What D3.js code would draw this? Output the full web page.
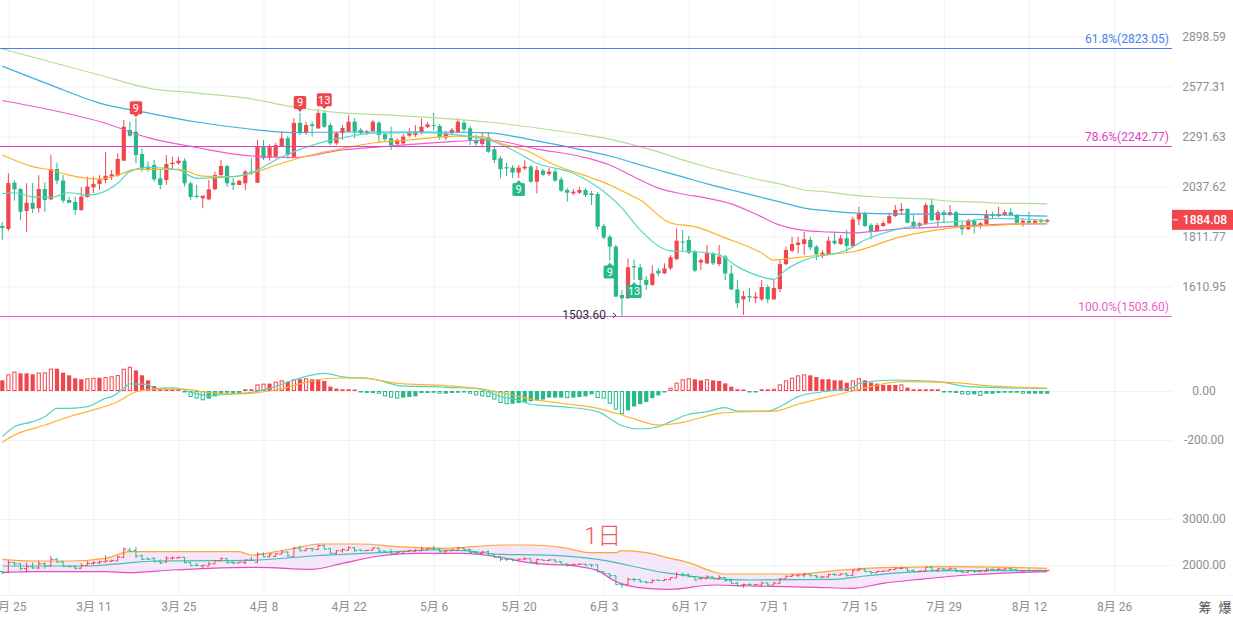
<!DOCTYPE html>
<html>
<head>
<meta charset="utf-8">
<script src="https://cdn.jsdelivr.net/npm/d3@7"></script>
<style>
  html, body { margin: 0; padding: 0; background: #fff; }
  svg { display: block; font-family: Roboto, "Noto Sans CJK SC", sans-serif; }
</style>
</head>
<body>
<svg id="chart" width="1233" height="617"></svg>
<script>
/* daily candles, day 0 = Feb 24, day 172 = Aug 15 */
const openP = [1857,1844,2056,2026,1924,1961,1936,2026,1977,2123,
  2066,1974,1965,1928,1988,2034,2050,2069,2085,2090,
  2165,2327,2318,2199,2135,2143,2077,2069,2148,2152,
  2165,2053,1994,1982,1977,2024,2093,2138,2056,2045,
  2053,2110,2056,2238,2180,2185,2238,2282,2185,2366,
  2310,2358,2336,2422,2354,2255,2310,2318,2373,2327,
  2313,2320,2367,2304,2282,2252,2255,2296,2300,2310,
  2343,2354,2349,2286,2310,2313,2367,2336,2273,2252,
  2288,2224,2177,2132,2130,2105,2126,2135,2061,2115,
  2098,2110,2072,2021,2005,2008,2021,2005,2002,1857,
  1811,1769,1579,1567,1690,1685,1636,1617,1672,1661,
  1681,1718,1790,1797,1748,1704,1701,1739,1698,1728,
  1661,1600,1563,1575,1567,1563,1609,1563,1601,1698,
  1752,1776,1780,1797,1769,1735,1739,1794,1780,1804,
  1772,1886,1910,1861,1835,1857,1869,1901,1925,1933,
  1876,1857,1866,1951,1883,1918,1906,1918,1861,1843,
  1880,1857,1866,1906,1901,1906,1918,1906,1871,1880,
  1871,1883,1876];
const highP = [1874,2102,2066,2030,2053,2054,2093,2058,2196,2155,
  2093,1989,1989,2034,2085,2085,2093,2211,2118,2203,
  2382,2373,2392,2229,2160,2169,2118,2194,2185,2185,
  2177,2061,2045,1994,2069,2110,2169,2143,2077,2069,
  2118,2177,2273,2273,2250,2257,2318,2295,2392,2422,
  2373,2373,2445,2438,2367,2318,2354,2410,2393,2338,
  2327,2382,2377,2310,2345,2283,2304,2338,2354,2392,
  2371,2422,2360,2321,2338,2393,2382,2349,2300,2316,
  2316,2236,2189,2153,2143,2143,2169,2143,2138,2123,
  2128,2123,2084,2030,2026,2035,2030,2016,2011,1866,
  1818,1776,1598,1721,1717,1698,1651,1694,1682,1701,
  1735,1847,1840,1814,1755,1721,1776,1747,1776,1735,
  1694,1636,1594,1605,1590,1636,1617,1636,1714,1769,
  1811,1811,1832,1811,1776,1755,1811,1826,1818,1840,
  1898,1943,1920,1869,1870,1879,1916,1951,1959,1936,
  1906,1874,1962,1982,1928,1928,1951,1924,1876,1888,
  1888,1876,1928,1920,1943,1928,1936,1910,1891,1920,
  1888,1891,1888];
const lowP = [1797,1835,1971,1883,1832,1915,1916,1920,1974,2048,
  1959,1959,1906,1924,1985,2005,2021,2053,2069,2085,
  2163,2291,2152,2110,2110,2061,2024,2045,2118,2143,
  2037,1974,1982,1936,1974,2021,2089,2037,2021,2045,
  2021,2093,2054,2169,2165,2178,2236,2177,2180,2300,
  2300,2291,2332,2338,2246,2246,2273,2316,2283,2300,
  2300,2318,2264,2268,2220,2241,2246,2289,2289,2304,
  2338,2327,2273,2273,2300,2310,2316,2246,2235,2241,
  2205,2153,2077,2088,2079,2079,2118,2054,2005,2089,
  2089,2060,2011,1966,1997,2002,1988,1951,1840,1801,
  1712,1572,1503.6,1564,1636,1617,1598,1613,1651,1659,
  1675,1714,1748,1739,1667,1675,1698,1694,1690,1636,
  1596,1531,1507,1553,1549,1557,1549,1561,1590,1694,
  1747,1742,1735,1755,1714,1721,1735,1776,1776,1748,
  1767,1861,1853,1800,1830,1853,1866,1897,1906,1869,
  1846,1848,1861,1879,1854,1869,1901,1848,1818,1840,
  1825,1846,1861,1891,1897,1901,1901,1869,1854,1869,
  1866,1869,1872];
const closeP = [1848,2054,2024,1920,1961,1934,2026,1974,2123,2066,
  1971,1961,1928,1990,2037,2050,2072,2089,2097,2174,
  2345,2296,2194,2126,2123,2072,2045,2148,2155,2165,
  2053,1988,1988,1994,2024,2093,2138,2053,2045,2066,
  2110,2102,2238,2177,2235,2246,2282,2194,2366,2310,
  2354,2349,2422,2345,2255,2310,2338,2373,2318,2310,
  2318,2373,2300,2277,2246,2273,2291,2313,2318,2345,
  2358,2349,2288,2310,2327,2373,2330,2273,2255,2282,
  2211,2169,2122,2126,2105,2130,2135,2061,2118,2095,
  2110,2066,2018,2008,2013,2021,1997,1997,1854,1808,
  1769,1573,1567,1685,1685,1636,1617,1661,1661,1681,
  1725,1794,1786,1744,1672,1714,1742,1701,1728,1661,
  1600,1549,1575,1570,1573,1609,1563,1605,1698,1755,
  1780,1786,1800,1766,1738,1744,1794,1783,1804,1772,
  1886,1910,1857,1835,1861,1870,1901,1928,1933,1871,
  1854,1869,1951,1883,1918,1906,1918,1857,1843,1880,
  1857,1869,1906,1901,1910,1918,1906,1871,1880,1871,
  1880,1876,1884.08];

/* x axis */
const tickDays = [1,15,29,43,57,71,85,99,113,127,141,155,169,183];
const tickLabels = ["2月 25","3月 11","3月 25","4月 8","4月 22","5月 6","5月 20",
  "6月 3","6月 17","7月 1","7月 15","7月 29","8月 12","8月 26"];

/* price axis ticks and fibonacci levels */
const mainTicks = [2898.59, 2577.31, 2291.63, 2037.62, 1811.77, 1610.95];
const fibLabels = ["61.8%", "78.6%", "100.0%"];
const fibValues = [2823.05, 2242.77, 1503.60];
const lastPrice = 1884.08;

/* moving averages */
const maDays = [0,8,16,24,32,40,48,56,64,72,80,88,96,100,104,108,112,116,120,124,128,132,136,140,144,148,152,156,160,164,168,172];
const maLong = [2815,2730,2648,2568,2538,2509,2456,2422,2410,2393,2371,2338,2300,2278,2246,2210,2169,2133,2103,2074,2050,2021,2011,1997,1988,1983,1979,1969,1965,1960,1958,1956];
const maBlue = [2704,2586,2479,2422,2371,2335,2313,2316,2316,2316,2311,2268,2217,2189,2153,2118,2084,2050,2021,1993,1965,1937,1924,1915,1912,1910,1910,1910,1908,1906,1903,1901];
const maPink = [2494,2439,2374,2286,2233,2192,2181,2220,2241,2260,2273,2225,2181,2143,2084,2030,2002,1983,1956,1910,1861,1838,1831,1827,1835,1846,1850,1855,1859,1864,1866,1866];
const ma20Days = [0,5,8,11,16,19,22,24,29,33,38,41,46,52,57,61,67,75,79,82,86,91,97,100,103,105,110,114,119,125,127,130,135,140,148,156,164,172];
const ma20 = [2194,2135,2118,2093,2074,2093,2121,2121,2121,2088,2085,2102,2152,2203,2234,2257,2273,2294,2291,2255,2220,2143,2079,2045,2002,1974,1870,1854,1806,1743,1714,1722,1735,1748,1811,1848,1861,1869];
const ma10Days = [0,2,5,8,11,14,16,19,21,24,29,32,38,41,46,52,57,61,69,77,80,84,88,94,98,102,105,110,114,118,121,125,127,129,132,139,142,148,153,159,164,172];
const ma10 = [2004,2008,1989,1986,2008,1997,2005,2053,2110,2132,2118,2077,2085,2105,2185,2255,2291,2310,2313,2291,2273,2220,2152,2102,2035,1937,1840,1752,1748,1735,1688,1648,1638,1676,1714,1755,1797,1847,1869,1880,1891,1880];

/* TD sequence badges */
const badgeDays = [22, 49, 53, 85, 100, 104];
const badgeText = ["9", "9", "13", "9", "9", "13"];
const badgeAbove = [true, true, true, false, false, false];

/* MACD */
const macdHist = [43.5,68,79,72,72,68,75,76,91,91,75,64,52,48,52,54,54,57,60,65,91,99,84,64,43.5,20,9.5,7,7,7,
  -1.4,-24.5,-31,-38,-31,-22,-11,-7,-8,-8,
  7,7,27,30,30,38,43.5,38,48,48,52,48,48,41,18,9.5,7,7,3,
  -1.4,-8,-8,-11,-22,-27,-31,-27,-24.5,-22,-8,-8,-7,-11,-11,-8,-7,-5.4,-11,-18,-22,-24.5,-35,-49,-54,-52,-49,-45,
  -42,-38,
  -35,-27,-27,-27,-29,-27,-24.5,-22,-13.6,-29,-31,-52,-76,-95,-79,-63,-54,-45,-29,-18,-4,
  13.6,34,48,52,48,43.5,48,43.5,41,31,17.7,7,3,
  -1.4,-4,
  7,7,9.5,27,43.5,54,64,68,64,57,48,48,43.5,43.5,34,43.5,52,43.5,34,30,24.5,24.5,24.5,27,13.6,7,7,7,7,7,
  -1.4,-4,-8,-13.6,-15,-13.6,-20,-11,-11,-8,-7,-7,-7,-11,-11,-11,-11,-11];
const difDays = [0,2,5,7,9,11,14,17,18,20,21,24,25,28,29,31,34,37,40,44,48,53,56,61,66,71,73,78,82,85,87,92,98,100,102,105,108,110,113,116,119,121,126,128,131,135,140,141,147,154,159,165,172];
const difVals = [-186,-146,-125,-105,-71,-71,-64,-30,-23,11,29,27,11,13,11,-5,-19,-13,-9,11,45,72,58,49,20,18,15,11,-23,-37,-54,-64,-84,-112,-142,-155,-146,-125,-95,-84,-68,-82,-82,-64,-23,-3,14,31,45,38,18,13,11];
const deaDays = [0,2,7,11,14,19,22,25,30,34,39,45,51,54,59,65,73,80,85,87,92,98,101,104,108,112,118,123,127,131,136,140,148,156,162,172];
const deaVals = [-209,-180,-139,-105,-84,-44,-3,8,8,-7,-12,4,41,52,54,31,22,4,-23,-33,-50,-71,-91,-114,-139,-128,-91,-84,-82,-54,-23,0,38,35,22,11];
const macdTicks = [0, -200];

/* lower band panel */
const upDays = [0,5,11,17,21,25,39,41,45,48,52,59,65,73,82,87,92,97,101,102,106,110,113,117,119,131,137,142,148,156,172];
const upVals = [2124,2087,2087,2146,2290,2290,2290,2217,2290,2362,2457,2457,2399,2362,2435,2435,2384,2268,2268,2312,2268,2145,2051,1855,1804,1804,1877,1928,1950,1964,1928];
const midDays = [0,14,20,25,34,42,51,62,71,76,82,88,98,109,117,123,137,142,148,156,172];
const midVals = [1978,1978,2036,2087,2094,2109,2196,2268,2326,2312,2230,2220,2123,1833,1710,1674,1688,1761,1833,1877,1877];
const lowDays = [0,5,17,21,28,34,42,51,56,62,68,76,82,87,95,98,101,106,110,117,123,134,140,145,151,159,172];
const lowVals = [1833,1855,1855,1833,1891,1928,1950,1906,2036,2196,2254,2254,2167,2045,1964,1877,1638,1493,1471,1565,1543,1515,1493,1602,1689,1783,1855];
const bandTicks = [3000, 2000];

/* ---- drawing ---- */
const plotRight = 1172;
const red = "#F2464F", green = "#27B98B";
const gridColor = "#F1F2F4", axisText = "#8B8E95";

const svg = d3.select("#chart");
const defs = svg.append("defs");

const x = d3.scaleLinear().domain([0, 172]).range([2.3, 1047.2]);
const yMain = d3.scaleLog().domain([1610.95, 2898.59]).range([286.5, 36.5]);
const yMacd = d3.scaleLinear().domain([-200, 0]).range([440, 391]);
const yBand = d3.scaleLinear().domain([2000, 3000]).range([565, 519]);

const candles = openP.map((o, i) => ({ i, o, h: highP[i], l: lowP[i], c: closeP[i] }));
const pairs = (days, vals) => days.map((d, i) => [d, vals[i]]);

/* band fill (below upper and above lower) */
defs.append("clipPath").attr("id", "belowUpper").append("path")
  .attr("d", d3.area().x(d => x(d[0])).y0(592).y1(d => yBand(d[1])).curve(d3.curveMonotoneX)(pairs(upDays, upVals)));
svg.append("path")
  .attr("clip-path", "url(#belowUpper)")
  .attr("fill", "#F5E6FB")
  .attr("d", d3.area().x(d => x(d[0])).y0(480).y1(d => yBand(d[1])).curve(d3.curveMonotoneX)(pairs(lowDays, lowVals)));

/* x axis with vertical grid */
const gx = svg.append("g").attr("transform", "translate(0,595)")
  .call(d3.axisBottom(x).tickValues(tickDays).tickFormat((d, i) => tickLabels[i]).tickSize(-595).tickPadding(0));
gx.attr("font-family", null).attr("font-size", 12);
gx.select(".domain").remove();
gx.selectAll("line").attr("stroke", gridColor);
gx.selectAll("text").attr("y", 7).attr("fill", axisText);
svg.append("line").attr("x1", 0).attr("x2", 1233).attr("y1", 595.5).attr("y2", 595.5).attr("stroke", gridColor);

function rightAxis(scale, values) {
  const g = svg.append("g")
    .call(d3.axisRight(scale).tickValues(values).tickFormat(d => d.toFixed(2)).tickSize(plotRight));
  g.attr("font-family", null).attr("font-size", 12);
  g.select(".domain").remove();
  g.selectAll("line").attr("stroke", gridColor);
  g.selectAll("text").attr("x", 1204).attr("text-anchor", "middle").attr("fill", axisText);
  return g;
}
rightAxis(yMain, mainTicks);
rightAxis(yMacd, macdTicks);
rightAxis(yBand, bandTicks);

/* candles */
const gc = svg.append("g");
gc.selectAll("line").data(candles).join("line")
  .attr("x1", d => x(d.i)).attr("x2", d => x(d.i))
  .attr("y1", d => yMain(d.h)).attr("y2", d => yMain(d.l))
  .attr("stroke", d => d.c >= d.o ? red : green);
gc.selectAll("rect").data(candles).join("rect")
  .attr("x", d => x(d.i) - 2.1).attr("width", 4.2)
  .attr("y", d => yMain(Math.max(d.o, d.c)))
  .attr("height", d => Math.max(1, yMain(Math.min(d.o, d.c)) - yMain(Math.max(d.o, d.c))))
  .attr("fill", d => d.c >= d.o ? red : green);

/* moving averages */
function curveLine(days, vals, scale, color, width) {
  svg.append("path")
    .attr("fill", "none").attr("stroke", color).attr("stroke-width", width || 1.2)
    .attr("d", d3.line().x(d => x(d[0])).y(d => scale(d[1])).curve(d3.curveMonotoneX)(pairs(days, vals)));
}
curveLine(maDays, maLong, yMain, "#B4DF98");
curveLine(maDays, maBlue, yMain, "#3CAFE4");
curveLine(maDays, maPink, yMain, "#E95FCB");
curveLine(ma20Days, ma20, yMain, "#FFB21F");
curveLine(ma10Days, ma10, yMain, "#55D9C3");

/* fibonacci levels */
const fibColors = ["#4A7DF0", "#E23DC4", "#F05BCC"];
fibValues.forEach((v, i) => {
  const yy = Math.round(yMain(v)) + 0.5;
  svg.append("line").attr("x1", 0).attr("x2", plotRight).attr("y1", yy).attr("y2", yy)
    .attr("stroke", fibColors[i]).attr("stroke-width", 1);
  svg.append("text").attr("x", 1169).attr("y", yy - 6).attr("text-anchor", "end")
    .attr("font-size", 12).attr("fill", fibColors[i])
    .text(fibLabels[i] + "(" + v.toFixed(2) + ")");
});

/* lowest price note */
const lowIdx = d3.minIndex(lowP);
svg.append("text").attr("x", x(lowIdx) - 16).attr("y", yMain(lowP[lowIdx]) + 3)
  .attr("text-anchor", "end").attr("font-size", 12).attr("fill", "#333")
  .text(lowP[lowIdx].toFixed(2));
svg.append("path")
  .attr("d", `M${x(lowIdx) - 9},${yMain(lowP[lowIdx]) - 3} l3,2.5 l-3,2.5`)
  .attr("fill", "none").attr("stroke", "#333").attr("stroke-width", 1);

/* TD badges */
badgeDays.forEach((day, i) => {
  const cx = x(day);
  const w = badgeText[i].length > 1 ? 15 : 12.5, h = 13;
  const col = badgeAbove[i] ? red : green;
  let tip, by, tri;
  if (badgeAbove[i]) {
    tip = yMain(highP[day]) - 1;
    by = tip - 3 - h;
    tri = `M${cx - 3},${tip - 3.5} L${cx + 3},${tip - 3.5} L${cx},${tip} Z`;
  } else {
    tip = yMain(lowP[day]) + 2;
    by = tip + 3;
    tri = `M${cx - 3},${tip + 3.5} L${cx + 3},${tip + 3.5} L${cx},${tip} Z`;
  }
  svg.append("rect").attr("x", cx - w / 2).attr("y", by).attr("width", w).attr("height", h)
    .attr("rx", 1.5).attr("fill", col);
  svg.append("path").attr("d", tri).attr("fill", col);
  svg.append("text").attr("x", cx).attr("y", by + h / 2 + 4).attr("text-anchor", "middle")
    .attr("font-size", 11).attr("fill", "#fff").text(badgeText[i]);
});

/* MACD histogram */
const gm = svg.append("g");
macdHist.forEach((v, i) => {
  const prev = i > 0 ? macdHist[i - 1] : v;
  const hollow = Math.abs(v) > Math.abs(prev);
  const col = v >= 0 ? red : green;
  const top = yMacd(Math.max(0, v)), bot = yMacd(Math.min(0, v));
  const hgt = Math.max(1.5, bot - top);
  const yTop = v >= 0 ? bot - hgt : top;
  if (hollow) {
    gm.append("rect").attr("x", x(i) - 1.6).attr("width", 3.2)
      .attr("y", yTop + 0.5).attr("height", Math.max(0.5, hgt - 1))
      .attr("fill", "#fff").attr("stroke", col).attr("stroke-width", 1);
  } else {
    gm.append("rect").attr("x", x(i) - 2.1).attr("width", 4.2)
      .attr("y", yTop).attr("height", hgt).attr("fill", col);
  }
});
curveLine(difDays, difVals, yMacd, "#4DD6BF");
curveLine(deaDays, deaVals, yMacd, "#FDB52C");

/* lower panel: band lines and OHLC bars */
curveLine(upDays, upVals, yBand, "#FFA62E");
curveLine(midDays, midVals, yBand, "#3EC2B2");
curveLine(lowDays, lowVals, yBand, "#E84DC0");
svg.append("g").selectAll("path").data(candles).join("path")
  .attr("fill", "none").attr("stroke-width", 1)
  .attr("stroke", d => d.c >= d.o ? red : green)
  .attr("d", d => `M${x(d.i)},${yBand(d.h)}V${yBand(d.l)}M${x(d.i) - 2.5},${yBand(d.o)}H${x(d.i)}M${x(d.i)},${yBand(d.c)}H${x(d.i) + 2.5}`);

svg.append("text").attr("x", 584).attr("y", 544).attr("font-size", 24).attr("font-weight", 300)
  .attr("fill", "#F25A5F").text("1日");

/* last price tag */
const ty = yMain(lastPrice);
svg.append("rect").attr("x", 1172).attr("y", ty - 10).attr("width", 61).attr("height", 20).attr("fill", red);
svg.append("line").attr("x1", 1173).attr("x2", 1178).attr("y1", ty).attr("y2", ty).attr("stroke", "#fff");
svg.append("text").attr("x", 1205).attr("y", ty + 4.5).attr("text-anchor", "middle")
  .attr("font-size", 12).attr("font-weight", 500).attr("fill", "#fff").text(lastPrice.toFixed(2));

/* bottom-right tool labels */
svg.append("text").attr("x", 1205).attr("y", 612).attr("text-anchor", "middle")
  .attr("font-size", 13).attr("fill", "#555").text("筹");
svg.append("text").attr("x", 1225).attr("y", 612).attr("text-anchor", "middle")
  .attr("font-size", 13).attr("fill", "#555").text("爆");
</script>
</body>
</html>
